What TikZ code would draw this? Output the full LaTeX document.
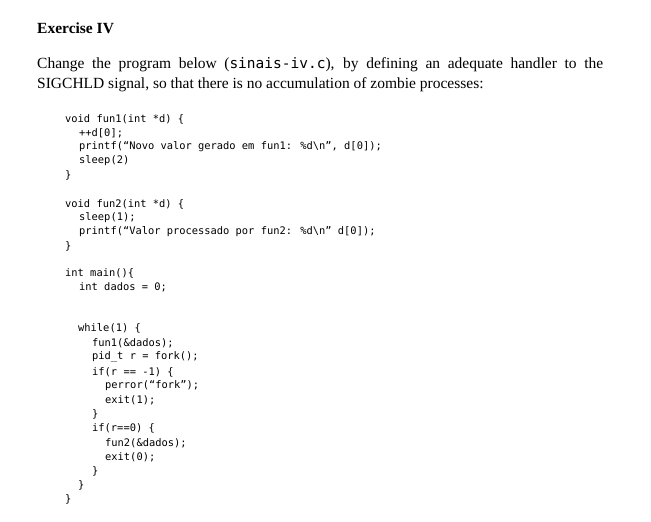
\documentclass[tikz,border=0pt]{standalone}
\usepackage{fontspec}
\setmainfont{Liberation Serif}
\newfontfamily\codefont{DejaVu Sans Mono}
\begin{document}
\begin{tikzpicture}[x=1pt,y=-1pt,
  codeline/.style={anchor=west,inner sep=0pt,font=\codefont\fontsize{10.4}{12}\selectfont}]
\useasboundingbox[fill=white] (0,0) rectangle (651,522);
\node[anchor=west,inner sep=0pt,font=\bfseries\fontsize{15.5}{18}\selectfont] (title) at (37,28) {Exercise IV};
\node[anchor=north west,inner sep=0pt,text width=566pt,align=justify,font=\fontsize{15.5}{20}\selectfont] (para) at (37,57)
 {Change the program below ({\codefont\fontsize{14.5}{18}\selectfont sinais-iv.c}), by defining an adequate handler to the\linebreak SIGCHLD signal, so that there is no accumulation of zombie processes:};
\node[codeline] (l1) at (65,119) {void fun1(int *d) \{};
\node[codeline] (l2) at (79,133) {++d[0];};
\node[codeline] (l3) at (79,147) {printf(“Novo valor gerado em fun1: \%d\textbackslash n”, d[0]);};
\node[codeline] (l4) at (79,161) {sleep(2)};
\node[codeline] (l5) at (65,175) {\}};
\node[codeline] (l6) at (65,204) {void fun2(int *d) \{};
\node[codeline] (l7) at (79,218) {sleep(1);};
\node[codeline] (l8) at (79,232) {printf(“Valor processado por fun2: \%d\textbackslash n” d[0]);};
\node[codeline] (l9) at (65,246) {\}};
\node[codeline] (l10) at (65,273) {int main()\{};
\node[codeline] (l11) at (79,287) {int dados = 0;};
\node[codeline] (l12) at (78,328) {while(1) \{};
\node[codeline] (l13) at (92,343) {fun1(\&dados);};
\node[codeline] (l14) at (92,357) {pid\_t r = fork();};
\node[codeline] (l15) at (92,372) {if(r == -1) \{};
\node[codeline] (l16) at (105,386) {perror(“fork”);};
\node[codeline] (l17) at (105,400) {exit(1);};
\node[codeline] (l18) at (92,414) {\}};
\node[codeline] (l19) at (92,428) {if(r==0) \{};
\node[codeline] (l20) at (105,443) {fun2(\&dados);};
\node[codeline] (l21) at (105,457) {exit(0);};
\node[codeline] (l22) at (92,471) {\}};
\node[codeline] (l23) at (78,485) {\}};
\node[codeline] (l24) at (65,499) {\}};
\end{tikzpicture}
\end{document}
